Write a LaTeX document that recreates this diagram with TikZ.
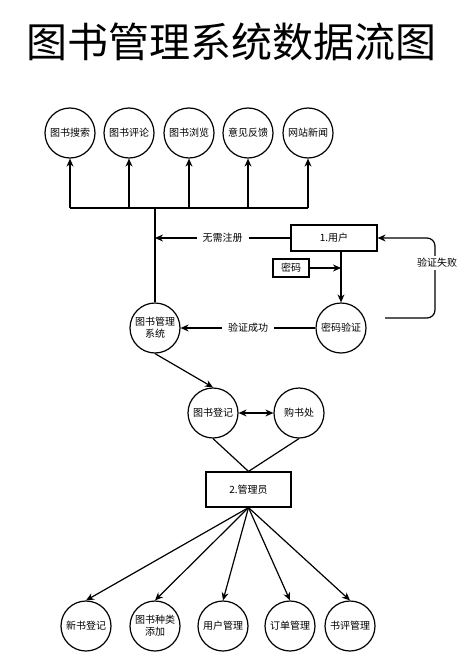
\documentclass[tikz,border=0pt]{standalone}
\usepackage{fontspec}
\setmainfont{Noto Sans CJK SC}
\usepackage{tikz}
\usetikzlibrary{arrows.meta, positioning, calc}
\tikzset{
  dfdcircle/.style={circle, draw=black, line width=1.2pt, fill=white, align=center,
    minimum size=50pt, inner sep=0pt, font=\fontsize{10}{12}\selectfont},
  dfdbox/.style={draw=black, line width=1.2pt, fill=white, align=center,
    inner sep=0pt, font=\fontsize{10}{12}\selectfont},
  dfdline/.style={line width=1.2pt, black},
  dfdarrow/.style={-{Stealth[length=8pt, width=7pt]}, line width=1.2pt, black},
  dfdlabel/.style={fill=white, inner xsep=6pt, inner ysep=2pt, font=\fontsize{10}{12}\selectfont},
}
\begin{document}
\begin{tikzpicture}[x=1pt, y=-1pt]
  \useasboundingbox (0,0) rectangle (474,669);
  \node[font=\fontsize{41}{41}\selectfont] (title) at (231,42) {图书管理系统数据流图};
  % Obere Funktionen
  \node[dfdcircle] (search) at (70,133) {图书搜索};
  \node[dfdcircle] (review) at (129,133) {图书评论};
  \node[dfdcircle] (browse) at (189,133) {图书浏览};
  \node[dfdcircle] (feedback) at (248,133) {意见反馈};
  \node[dfdcircle] (news) at (308,133) {网站新闻};
  % Benutzer
  \node[dfdcircle] (sys) at (155,328) {图书管理\\系统};
  \node[dfdbox, minimum width=86pt, minimum height=26pt] (user) at (334,238) {1.用户};
  \node[dfdbox, minimum width=36pt, minimum height=18pt] (pwd) at (291,268) {密码};
  \node[dfdcircle] (check) at (341,328) {密码验证};
  \coordinate (bus) at (155,208);
  \coordinate (failstart) at (385,318);
  \coordinate (failturn) at (435,318);
  \draw[dfdline] (sys) -- (bus);
  \draw[dfdline] (search |- bus) -- (news |- bus);
  \draw[dfdarrow] (search |- bus) -- (search);
  \draw[dfdarrow] (review |- bus) -- (review);
  \draw[dfdarrow] (browse |- bus) -- (browse);
  \draw[dfdarrow] (feedback |- bus) -- (feedback);
  \draw[dfdarrow] (news |- bus) -- (news);
  \draw[dfdarrow] (user.west) -- (user.west -| sys) node[midway, dfdlabel] {无需注册};
  \draw[dfdarrow] (user.south -| check) -- (check);
  \draw[dfdarrow] (pwd.east) -- (pwd.east -| check);
  \draw[dfdarrow] (check.west) -- (sys.east) node[midway, dfdlabel] {验证成功};
  \draw[dfdarrow, rounded corners=8pt] (failstart) -- (failturn) -- (failturn |- user.east) -- (user.east);
  \node[dfdlabel, inner xsep=1pt] (faillabel) at (437,263) {验证失败};
  % Verwaltung
  \node[dfdcircle] (reg) at (213,413) {图书登记};
  \node[dfdcircle] (shop) at (299,413) {购书处};
  \node[dfdbox, minimum width=85pt, minimum height=35pt] (admin) at (248.5,489.5) {2.管理员};
  \draw[dfdarrow] (sys.south) -- (reg.north);
  \draw[dfdarrow, {Stealth[length=8pt, width=7pt]}-{Stealth[length=8pt, width=7pt]}] (reg) -- (shop);
  \draw[dfdline] (reg.south) -- (admin.north);
  \draw[dfdline] (shop.south) -- (admin.north);
  % Untere Funktionen
  \node[dfdcircle] (newbook) at (86,626) {新书登记};
  \node[dfdcircle] (category) at (155,626) {图书种类\\添加};
  \node[dfdcircle] (usermgmt) at (223,626) {用户管理};
  \node[dfdcircle] (order) at (290,626) {订单管理};
  \node[dfdcircle] (reviewmgmt) at (350,626) {书评管理};
  \draw[dfdarrow] (admin.south) -- (newbook.north);
  \draw[dfdarrow] (admin.south) -- (category.north);
  \draw[dfdarrow] (admin.south) -- (usermgmt.north);
  \draw[dfdarrow] (admin.south) -- (order.north);
  \draw[dfdarrow] (admin.south) -- (reviewmgmt.north);
\end{tikzpicture}
\end{document}
